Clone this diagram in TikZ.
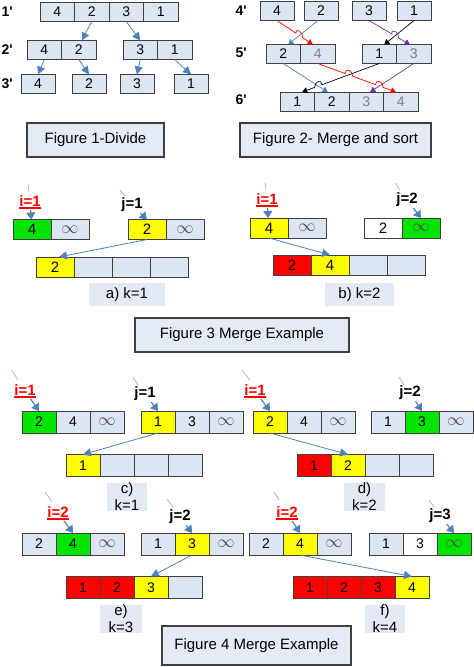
\documentclass[tikz,border=0pt]{standalone}
\usepackage{fontspec}
\setmainfont{Liberation Sans}
\usetikzlibrary{arrows.meta,positioning,calc}
\definecolor{cellfill}{HTML}{DCE6F2}
\definecolor{cellline}{HTML}{404040}
\definecolor{capfill}{HTML}{E4EBF5}
\definecolor{labfill}{HTML}{E3EAF4}
\definecolor{arrblue}{HTML}{4F81BD}
\definecolor{tickblue}{HTML}{8EAADB}
\definecolor{hotred}{HTML}{FF0000}
\definecolor{hotgreen}{HTML}{00E400}
\definecolor{hotyellow}{HTML}{FFFF00}
\definecolor{plum}{HTML}{7030A0}
\definecolor{dimtext}{HTML}{808080}
\newcommand\redul[1]{\setbox0\hbox{#1}\rlap{\rule[-2.5pt]{\wd0}{1.3pt}}\box0}
\newcommand\infsym{{\color{black!70}\fontsize{17}{17}\selectfont$\infty$}}
\tikzset{
  cell/.style={draw=cellline,fill=cellfill,line width=1pt,minimum width=34.5pt,
    minimum height=19pt,inner sep=0pt,outer sep=0pt,font=\fontsize{14}{16}\selectfont},
  mcell/.style={cell,minimum width=34pt,minimum height=22pt},
  gcell/.style={mcell,fill=hotgreen},
  ycell/.style={mcell,fill=hotyellow},
  rcell/.style={mcell,fill=hotred},
  wcell/.style={mcell,fill=white},
  capbox/.style={draw=cellline,fill=capfill,line width=1.1pt,inner sep=0pt,
    font=\fontsize{15}{17}\selectfont},
  klab/.style={fill=labfill,inner sep=0pt,align=center,font=\fontsize{15}{17}\selectfont},
  ilab/.style={text=hotred,font=\bfseries\fontsize{15}{17}\selectfont,inner sep=1pt},
  jlab/.style={font=\bfseries\fontsize{15}{17}\selectfont,inner sep=1pt},
  rowlab/.style={font=\bfseries\fontsize{14}{16}\selectfont,anchor=east,inner sep=0pt},
  tickln/.style={tickblue,line width=0.6pt},
  ptrarr/.style={arrblue,line width=1.2pt,-{Triangle[length=7pt,width=9pt]}},
  copyarr/.style={arrblue,line width=0.8pt,-{Triangle[length=8pt,width=8pt]}},
  sortarr/.style={line width=0.7pt,-{Triangle[length=5pt,width=6pt]}},
}

\begin{document}
\begin{tikzpicture}[x=1pt,y=-1pt]
  \useasboundingbox[fill=white] (0,0) rectangle (474,667);

  % Figure 1 - divide
  \node[rowlab] (l1) at (13,12) {1\textquotesingle};
  \node[rowlab] (l2) at (13,50) {2\textquotesingle};
  \node[rowlab] (l3) at (13,84) {3\textquotesingle};
  \node[cell,anchor=west] (r1a) at (40,12) {4};
  \node[cell,right=0pt of r1a] (r1b) {2};
  \node[cell,right=0pt of r1b] (r1c) {3};
  \node[cell,right=0pt of r1c] (r1d) {1};
  \node[cell,anchor=west] (r2a) at (27,50) {4};
  \node[cell,right=0pt of r2a] (r2b) {2};
  \node[cell,anchor=west] (r2c) at (123,50) {3};
  \node[cell,right=0pt of r2c] (r2d) {1};
  \node[cell,minimum width=34pt,anchor=west] (r3a) at (21,84) {4};
  \node[cell,minimum width=34pt,anchor=west] (r3b) at (72,84) {2};
  \node[cell,minimum width=34pt,anchor=west] (r3c) at (120,84) {3};
  \node[cell,minimum width=34pt,anchor=west] (r3d) at (174,84) {1};
  \draw[copyarr] (r1b.south) -- ($(r2b.north)+(3,0)$);
  \draw[copyarr] (r1c.south) -- (r2c.north);
  \draw[copyarr] (r2a.south) -- (r3a.north);
  \draw[copyarr] (r2b.south) -- (r3b.north);
  \draw[copyarr] (r2c.south) -- (r3c.north);
  \draw[copyarr] (r2d.south) -- (r3d.north);
  \node[capbox,minimum width=137pt,minimum height=34pt] (cap1) at (95.5,140) {Figure 1-Divide};

  % Figure 2 - merge and sort
  \node[rowlab] (l4) at (247,11) {4\textquotesingle};
  \node[rowlab] (l5) at (247,53) {5\textquotesingle};
  \node[rowlab] (l6) at (247,100) {6\textquotesingle};
  \node[cell,minimum width=34pt] (s4a) at (277,11) {4};
  \node[cell,minimum width=34pt] (s4b) at (321,11) {2};
  \node[cell,minimum width=34pt] (s4c) at (369,11) {3};
  \node[cell,minimum width=34pt] (s4d) at (414,11) {1};
  \node[cell,anchor=west] (s5a) at (266,54) {2};
  \node[cell,right=0pt of s5a,text=dimtext] (s5b) {4};
  \node[cell,anchor=west] (s5c) at (362,54) {1};
  \node[cell,right=0pt of s5c,text=dimtext] (s5d) {3};
  \node[cell,anchor=west] (s6a) at (280,101.5) {1};
  \node[cell,right=0pt of s6a] (s6b) {2};
  \node[cell,right=0pt of s6b,text=dimtext] (s6c) {3};
  \node[cell,right=0pt of s6c,text=dimtext] (s6d) {4};
  % 4' -> 5'
  \coordinate (p1) at ($(s5b.north)+(-5,0)$);
  \coordinate (p2) at ($(s5d.north)+(-4,0)$);
  \draw[sortarr,arrblue] ($(s4b.south)+(-3,0)$) -- ($(s5a.north)+(5,0)$);
  \draw[sortarr,hotred] (s4a.south) -- ($(s4a.south)!0.53!(p1)$)
    .. controls +(0,-6) and +(0,-6) .. ($(s4a.south)!0.72!(p1)$) -- (p1);
  \draw[sortarr,black] (s4d.south) -- ($(s5c.north)+(5,0)$);
  \draw[sortarr,plum] (s4c.south) -- ($(s4c.south)!0.56!(p2)$)
    .. controls +(0,-6) and +(0,-6) .. ($(s4c.south)!0.73!(p2)$) -- (p2);
  % 5' -> 6'
  \coordinate (p3) at ($(s6a.north)+(5,0)$);
  \coordinate (p4) at ($(s6d.north)+(-5,0)$);
  \draw[sortarr,arrblue] (s5a.south) -- ($(s6b.north)+(-4,0)$);
  \draw[sortarr,plum] (s5d.south) -- ($(s6c.north)+(4,0)$);
  \draw[sortarr,black] (s5c.south) -- ($(s5c.south)!0.745!(p3)$)
    .. controls +(0,-6) and +(0,-6) .. ($(s5c.south)!0.84!(p3)$) -- (p3);
  \draw[sortarr,hotred] (s5b.south) -- ($(s5b.south)!0.35!(p4)$)
    .. controls +(0,-6) and +(0,-6) .. ($(s5b.south)!0.45!(p4)$)
    -- ($(s5b.south)!0.74!(p4)$)
    .. controls +(0,-6) and +(0,-6) .. ($(s5b.south)!0.84!(p4)$) -- (p4);
  \node[capbox,minimum width=191pt,minimum height=34pt] (cap2) at (335.5,140) {Figure 2- Merge and sort};

  % little pointer ticks
  \draw[tickln] (28,184) -- (29,192) (120,190) -- (125,196)
    (265,183) -- (266,190) (395,183) -- (400,190)
    (12,370) -- (18,380) (133,377) -- (138,385)
    (242,370) -- (250,380) (399,377) -- (404,385)
    (45,492) -- (52,502) (167,499) -- (173,507)
    (274,492) -- (279,500) (429,500) -- (434,507);

  % Figure 3 - merge example
  \begin{scope}[mcell/.append style={minimum width=38pt,minimum height=20pt,
      font=\fontsize{15}{17}\selectfont}]
    % a) k=1
    \node[ilab] (ai) at (30,202) {\redul{i=1}};
    \node[gcell,anchor=west] (ai1) at (13,229.5) {4};
    \node[mcell,right=0pt of ai1] (ai2) {\infsym};
    \node[jlab] (aj) at (132,205) {j=1};
    \node[ycell,anchor=west] (aj1) at (128,229.5) {2};
    \node[mcell,right=0pt of aj1] (aj2) {\infsym};
    \node[ycell,anchor=west] (ak1) at (36,267) {2};
    \node[mcell,right=0pt of ak1] (ak2) {};
    \node[mcell,right=0pt of ak2] (ak3) {};
    \node[mcell,right=0pt of ak3] (ak4) {};
    \draw[ptrarr] (ai) -- (ai1);
    \draw[ptrarr] (aj) -- (aj1.north);
    \draw[copyarr] (aj1.south) -- ($(ak1.north)+(4,0)$);
    \node[klab,minimum width=76pt,minimum height=23pt] (ak) at (127,294.5) {a) k=1};
    % b) k=2
    \node[ilab] (bi) at (267,200) {\redul{i=1}};
    \node[ycell,anchor=west] (bi1) at (250,228) {4};
    \node[mcell,right=0pt of bi1] (bi2) {\infsym};
    \node[jlab] (bj) at (407,200) {j=2};
    \node[wcell,anchor=west] (bj1) at (364,228) {2};
    \node[gcell,right=0pt of bj1] (bj2) {\infsym};
    \node[rcell,anchor=west] (bk1) at (273,265) {2};
    \node[ycell,right=0pt of bk1] (bk2) {4};
    \node[mcell,right=0pt of bk2] (bk3) {};
    \node[mcell,right=0pt of bk3] (bk4) {};
    \draw[ptrarr] (bi) -- (bi1);
    \draw[ptrarr] (bj) -- (bj2.north);
    \draw[copyarr] (bi1.south) -- (bk2.north);
    \node[klab,minimum width=69pt,minimum height=23pt] (bk) at (359.5,294.5) {b) k=2};
  \end{scope}
  \node[capbox,minimum width=214pt,minimum height=34pt] (cap3) at (242,335) {Figure 3 Merge Example};

  % Figure 4 - merge example
  % c) k=1
  \node[ilab] (ci) at (25,391) {\redul{i=1}};
  \node[gcell,anchor=west] (ci1) at (22,422) {2};
  \node[mcell,right=0pt of ci1] (ci2) {4};
  \node[mcell,right=0pt of ci2] (ci3) {\infsym};
  \node[jlab] (cj) at (145,394) {j=1};
  \node[ycell,anchor=west] (cj1) at (141,422) {1};
  \node[mcell,right=0pt of cj1] (cj2) {3};
  \node[mcell,right=0pt of cj2] (cj3) {\infsym};
  \node[ycell,anchor=west] (ck1) at (66,465.5) {1};
  \node[mcell,right=0pt of ck1] (ck2) {};
  \node[mcell,right=0pt of ck2] (ck3) {};
  \node[mcell,right=0pt of ck3] (ck4) {};
  \draw[ptrarr] (ci) -- (ci1.north);
  \draw[ptrarr] (cj) -- (cj1.north);
  \draw[copyarr] (cj1.south) -- (ck1.north);
  \node[klab,minimum width=40pt,minimum height=28pt] (ck) at (127,496.5) {c)\\k=1};
  % d) k=2
  \node[ilab] (di) at (255,391) {\redul{i=1}};
  \node[ycell,anchor=west] (di1) at (253,422) {2};
  \node[mcell,right=0pt of di1] (di2) {4};
  \node[mcell,right=0pt of di2] (di3) {\infsym};
  \node[jlab] (dj) at (410,393) {j=2};
  \node[mcell,anchor=west] (dj1) at (371,422) {1};
  \node[gcell,right=0pt of dj1] (dj2) {3};
  \node[mcell,right=0pt of dj2] (dj3) {\infsym};
  \node[rcell,anchor=west] (dk1) at (297,465.5) {1};
  \node[ycell,right=0pt of dk1] (dk2) {2};
  \node[mcell,right=0pt of dk2] (dk3) {};
  \node[mcell,right=0pt of dk3] (dk4) {};
  \draw[ptrarr] (di) -- (di1.north);
  \draw[ptrarr] (dj) -- (dj2.north);
  \draw[copyarr] (di1.south) -- (dk2.north);
  \node[klab,minimum width=41pt,minimum height=28pt] (dk) at (364.5,496.5) {d)\\k=2};
  % e) k=3
  \node[ilab] (ei) at (58,513) {\redul{i=2}};
  \node[mcell,anchor=west] (ei1) at (22,544) {2};
  \node[gcell,right=0pt of ei1] (ei2) {4};
  \node[mcell,right=0pt of ei2] (ei3) {\infsym};
  \node[jlab] (ej) at (180,517) {j=2};
  \node[mcell,anchor=west] (ej1) at (141,544) {1};
  \node[ycell,right=0pt of ej1] (ej2) {3};
  \node[mcell,right=0pt of ej2] (ej3) {\infsym};
  \node[rcell,anchor=west] (ek1) at (66,587.5) {1};
  \node[rcell,right=0pt of ek1] (ek2) {2};
  \node[ycell,right=0pt of ek2] (ek3) {3};
  \node[mcell,right=0pt of ek3] (ek4) {};
  \draw[ptrarr] (ei) -- (ei2.north);
  \draw[ptrarr] (ej) -- (ej2.north);
  \draw[copyarr] (ej2.south) -- (ek3.north);
  \node[klab,minimum width=42pt,minimum height=28pt] (ek) at (121,619) {e)\\k=3};
  % f) k=4
  \node[ilab] (fi) at (287,513) {\redul{i=2}};
  \node[mcell,anchor=west] (fi1) at (249,544) {2};
  \node[ycell,right=0pt of fi1] (fi2) {4};
  \node[mcell,right=0pt of fi2] (fi3) {\infsym};
  \node[jlab] (fj) at (440,516) {j=3};
  \node[mcell,anchor=west] (fj1) at (369,544) {1};
  \node[wcell,right=0pt of fj1] (fj2) {3};
  \node[gcell,right=0pt of fj2] (fj3) {\infsym};
  \node[rcell,anchor=west] (fk1) at (293,587.5) {1};
  \node[rcell,right=0pt of fk1] (fk2) {2};
  \node[rcell,right=0pt of fk2] (fk3) {3};
  \node[ycell,right=0pt of fk3] (fk4) {4};
  \draw[ptrarr] (fi) -- (fi2.north);
  \draw[ptrarr] (fj) -- (fj3.north);
  \draw[copyarr] (fi2.south) -- (fk4.north);
  \node[klab,minimum width=40pt,minimum height=28pt] (fk) at (385,619) {f)\\k=4};
  \node[capbox,minimum width=189pt,minimum height=39pt] (cap4) at (256.5,645.5) {Figure 4 Merge Example};
\end{tikzpicture}
\end{document}
